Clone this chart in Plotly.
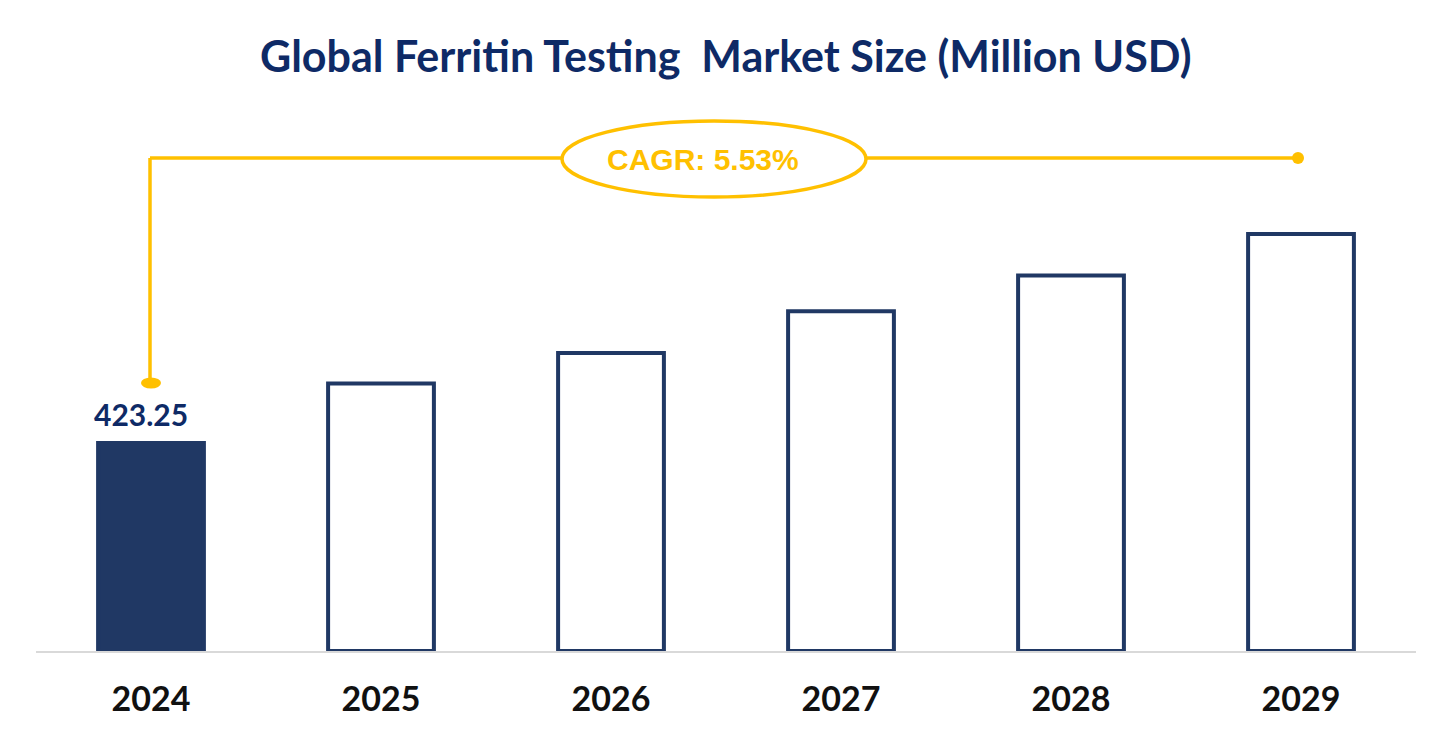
import plotly.graph_objects as go

years = ["2024", "2025", "2026", "2027", "2028", "2029"]
values = [423.25, 544.2, 606.6, 691.3, 763.9, 848.5]
label_text = "423.25"
cagr_text = "CAGR: 5.53%"
title_text = "Global Ferritin Testing  Market Size (Million USD)"

NAVY = "#203864"
GOLD = "#FFC000"
TITLE_C = "#0E2A66"

fills = [NAVY] + ["white"] * (len(years) - 1)

fig = go.Figure()
fig.add_trace(go.Bar(
    x=years, y=values,
    marker=dict(color=fills, line=dict(color=NAVY, width=4)),
    hoverinfo="skip",
))

OFF = 8  # page body margin
W, H = 1434 - OFF, 752 - OFF
# target positions in screenshot pixels
PL, PR, PT, PB = 36, 1416, 110, 651
ml, mr, mt, mb = PL - OFF, 1434 - PR, PT - OFF, 752 - PB
pw = PR - PL
ph = PB - PT


def px(x):
    return (x - PL) / pw


def py(y):
    return (PB - y) / ph


shapes = []
shapes.append(dict(type="line", xref="paper", yref="paper",
                   x0=px(150), x1=px(150), y0=py(383), y1=py(158),
                   line=dict(color=GOLD, width=3.5), layer="above"))
shapes.append(dict(type="line", xref="paper", yref="paper",
                   x0=px(150), x1=px(1298), y0=py(158), y1=py(158),
                   line=dict(color=GOLD, width=3.5), layer="above"))
shapes.append(dict(type="circle", xref="paper", yref="paper",
                   x0=px(562), x1=px(866), y0=py(197), y1=py(121),
                   fillcolor="white", line=dict(color=GOLD, width=3.5), layer="above"))
shapes.append(dict(type="circle", xref="paper", yref="paper",
                   xsizemode="pixel", ysizemode="pixel",
                   xanchor=px(151), yanchor=py(383),
                   x0=-10, x1=10, y0=-5.5, y1=5.5,
                   fillcolor=GOLD, line=dict(color=GOLD, width=0), layer="above"))
shapes.append(dict(type="circle", xref="paper", yref="paper",
                   xsizemode="pixel", ysizemode="pixel",
                   xanchor=px(1298), yanchor=py(158),
                   x0=-6, x1=6, y0=-6, y1=6,
                   fillcolor=GOLD, line=dict(color=GOLD, width=0), layer="above"))

annotations = [
    dict(text=f"<b>{cagr_text}</b>", xref="paper", yref="paper",
         x=px(703), y=py(159), xanchor="center", yanchor="middle", showarrow=False,
         font=dict(family="Liberation Sans, Arial", size=30, color=GOLD)),
    dict(text=f"<b>{label_text}</b>", xref="paper", yref="paper",
         x=px(141), y=py(414), xanchor="center", yanchor="middle", showarrow=False,
         font=dict(family="Lato, Carlito, sans-serif", size=30, color=TITLE_C)),
    dict(text=f"<b>{title_text}</b>", xref="paper", yref="paper",
         x=px(726), y=py(55), xanchor="center", yanchor="middle", showarrow=False,
         font=dict(family="Lato, Carlito, sans-serif", size=43, color=TITLE_C)),
]

fig.update_layout(
    width=W, height=H,
    margin=dict(l=ml, r=mr, t=mt, b=mb, autoexpand=False),
    paper_bgcolor="white", plot_bgcolor="white",
    showlegend=False,
    bargap=0.54,
    shapes=shapes,
    annotations=annotations,
    xaxis=dict(type="category", range=[-0.5, len(years) - 0.5],
               showline=True, linecolor="#D9D9D9", linewidth=2,
               showgrid=False, zeroline=False, ticks="", automargin=False,
               ticklabelstandoff=17,
               tickprefix="<b>", ticksuffix="</b>",
               tickfont=dict(family="Lato, Carlito, sans-serif", size=34, color="#111111"),
               fixedrange=True),
    yaxis=dict(range=[0, ph / (208 / values[0])], visible=False, showgrid=False,
               zeroline=False, fixedrange=True, automargin=False),
)

fig.write_html("out.html")
